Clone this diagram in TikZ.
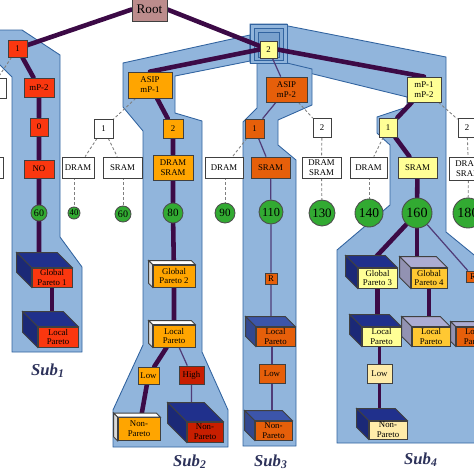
\documentclass[tikz,border=0pt]{standalone}
\usepackage{fontspec}
\setmainfont{Liberation Serif}
\usetikzlibrary{calc}
\definecolor{regblue}{RGB}{145,181,220}
\definecolor{regline}{RGB}{50,100,160}
\definecolor{rootbrown}{RGB}{188,140,140}
\definecolor{subred}{RGB}{250,55,15}
\definecolor{suborange}{RGB}{255,165,0}
\definecolor{subdark}{RGB}{230,95,10}
\definecolor{subyellow}{RGB}{255,255,150}
\definecolor{cream}{RGB}{255,236,170}
\definecolor{gold}{RGB}{255,200,50}
\definecolor{highred}{RGB}{200,30,0}
\definecolor{navyside}{RGB}{32,48,140}
\definecolor{midnavy}{RGB}{60,85,170}
\definecolor{lavside}{RGB}{172,172,210}
\definecolor{cgreen}{RGB}{50,170,50}
\definecolor{pathpurple}{RGB}{60,10,70}
\definecolor{altpurple}{RGB}{80,60,120}
\definecolor{subtext}{RGB}{45,50,90}
\pgfdeclarelayer{regions}
\pgfdeclarelayer{paths}
\pgfsetlayers{regions,paths,main}
\tikzset{
  box/.style={draw=black!75,line width=.45pt,inner sep=0pt,align=center,font=\fontsize{5}{5.6}\selectfont},
  sz/.style 2 args={minimum width=#1*0.02cm,minimum height=#2*0.02cm},
  blank/.style={box,fill=white},
  val/.style 2 args={circle,draw=black!70,fill=cgreen,inner sep=0pt,line width=.5pt,minimum size=#1*0.02cm,font=\fontsize{#2}{#2}\selectfont},
  best/.style={draw=pathpurple,line width=2.6pt,line cap=round},
  alt/.style={draw=altpurple,line width=.7pt},
  midline/.style={draw=pathpurple,line width=1.3pt},
  skip/.style={draw=gray,line width=.5pt,dash pattern=on 1.6pt off 1.2pt},
  region/.style={fill=regblue,draw=regline,line width=.5pt},
  sublabel/.style={font=\fontsize{9.5}{11}\selectfont\bfseries\itshape,text=subtext},
}
\newcommand\pbox[8]{%
  \node[box,sz={#3}{#4},fill=#5] (#1) at (#2) {#8};
  \filldraw[fill=#6,draw=black!75,line width=.45pt] (#1.north west) -- ++(-#7,-#7) -- ($(#1.north east)+(-#7,-#7)$) -- (#1.north east) -- cycle;
  \filldraw[fill=#6!85!black,draw=black!75,line width=.45pt] (#1.north west) -- ++(-#7,-#7) -- ($(#1.south west)+(-#7,-#7)$) -- (#1.south west) -- cycle;
  \coordinate (#1t) at ($(#1.north)+(-#7/2,-#7/2)$);
}

\begin{document}
\begin{tikzpicture}[x=0.02cm,y=-0.02cm]
\useasboundingbox (0,0) rectangle (474,474);

\node[box,sz={35}{23},fill=rootbrown,font=\fontsize{7.5}{8}\selectfont] (root) at (149.5,9.5) {Root};
\node[box,sz={17}{17},fill=subyellow] (n2) at (268.5,49.5) {2};

% Sub 1
\node[box,sz={19}{17},fill=subred] (a1) at (17.5,48.5) {1};
\node[box,sz={30}{19},fill=subred] (a2) at (39,87.5) {mP-2};
\node[box,sz={18}{18},fill=subred] (a3) at (39,127) {0};
\node[box,sz={30}{18},fill=subred] (a4) at (39,169) {NO};
\node[val={16}{5.7}] (a5) at (39,213) {60};
\pbox{a6}{52,277.5}{40}{19}{subred}{navyside}{15}{Global\\Pareto 1}
\pbox{a7}{58,337}{40}{20}{subred}{navyside}{15}{Local\\Pareto}
\node[blank,sz={30}{20}] (a8) at (-9,88) {};
\node[blank,sz={36}{21}] (a9) at (-15,168) {};
\node[sublabel] (s1) at (48,371) {Sub\textsubscript{1}};

% Sub 2
\node[box,sz={44}{26},fill=suborange] (b1) at (150,85) {ASIP\\mP-1};
\node[box,sz={20}{19},fill=suborange] (b2) at (173,128.5) {2};
\node[box,sz={40}{25},fill=suborange] (b3) at (173,167.5) {DRAM\\SRAM};
\node[val={20}{6.3}] (b4) at (173,213) {80};
\pbox{b5}{174,276}{42}{22}{suborange}{white}{4}{Global\\Pareto 2}
\pbox{b6}{174,336}{42}{22}{suborange}{white}{4}{Local\\Pareto}
\node[box,sz={21}{17},fill=suborange] (b7) at (148.5,375.5) {Low};
\node[box,sz={25}{18},fill=highred] (b8) at (191.5,375) {High};
\pbox{b9}{139,429}{42}{23}{suborange}{white}{4}{Non-\\Pareto}
\pbox{b10}{205,432}{36}{20}{highred}{navyside}{19}{Non-\\Pareto}
\node[blank,sz={19}{19}] (b11) at (103.5,128.5) {1};
\node[blank,sz={32}{21}] (b12) at (78,167.5) {DRAM};
\node[blank,sz={39}{21}] (b13) at (122.5,167.5) {SRAM};
\node[val={12}{5}] (b14) at (74,213) {40};
\node[val={16}{5.7}] (b15) at (123,214) {60};
\node[sublabel] (s2) at (190,462) {Sub\textsubscript{2}};

% Sub 3
\node[box,sz={41}{25},fill=subdark] (c1) at (286.5,89.5) {ASIP\\mP-2};
\node[box,sz={19}{19},fill=subdark] (c2) at (254.5,128.5) {1};
\node[box,sz={39}{21},fill=subdark] (c3) at (270.5,167.5) {SRAM};
\node[val={24}{7}] (c4) at (271,212) {110};
\node[box,sz={12}{11},fill=subdark] (c5) at (271,278.5) {R};
\pbox{c6}{275.5,336.5}{39}{19}{subdark}{midnavy}{10}{Local\\Pareto}
\node[box,sz={26}{19},fill=subdark] (c7) at (272,373.5) {Low};
\pbox{c8}{273.5,430.5}{37}{19}{subdark}{midnavy}{10}{Non-\\Pareto}
\node[blank,sz={38}{21}] (c9) at (224,167.5) {DRAM};
\node[val={20}{6.3}] (c10) at (225,213) {90};
\node[blank,sz={18}{19}] (c11) at (322,128) {2};
\node[blank,sz={39}{21}] (c12) at (321.5,167.5) {DRAM\\SRAM};
\node[val={26}{7.3}] (c13) at (322,213) {130};
\node[sublabel] (s3) at (271,462) {Sub\textsubscript{3}};

% Sub 4
\node[box,sz={34}{25},fill=subyellow] (d1) at (424,89.5) {mP-1\\mP-2};
\node[box,sz={18}{19},fill=subyellow] (d2) at (388,127.5) {1};
\node[box,sz={39}{21},fill=subyellow] (d3) at (417.5,167.5) {SRAM};
\node[val={30}{8}] (d4) at (417,213) {160};
\pbox{d5}{377.5,278}{39}{20}{subyellow}{navyside}{12}{Global\\Pareto 3}
\pbox{d6}{429,278}{36}{20}{gold}{lavside}{11}{Global\\Pareto 4}
\node[box,sz={14}{11},fill=subdark] (d7) at (473,276.5) {R};
\pbox{d8}{381.5,336.5}{39}{19}{subyellow}{navyside}{12}{Local\\Pareto}
\pbox{d9}{431,336.5}{38}{19}{gold}{lavside}{10}{Local\\Pareto}
\pbox{d10}{475,336.5}{38}{19}{subdark}{lavside}{5}{Local\\Pareto}
\node[box,sz={25}{19},fill=cream] (d11) at (379.5,373.5) {Low};
\pbox{d12}{388,430}{38}{18}{cream}{navyside}{12}{Non-\\Pareto}
\node[blank,sz={37}{21}] (d13) at (368.5,167.5) {DRAM};
\node[val={28}{7.7}] (d14) at (369,213) {140};
\node[blank,sz={18}{19}] (d15) at (467,127.5) {2};
\node[blank,sz={39}{23}] (d16) at (468.5,168.5) {DRAM\\SRAM};
\node[val={30}{8}] (d17) at (468,213) {180};
\node[sublabel] (s4) at (421,460) {Sub\textsubscript{4}};

\begin{pgfonlayer}{regions}
\path[region] (-10,30) -- (22,30) -- (60,55) -- (60,237) -- (82,267) -- (82,352) -- (12,352) -- (12,77) -- (-10,55) -- cycle;
\path[region] (250,35) -- (250,61) -- (175,76) -- (175,113) -- (202,121) -- (202,352) -- (228,410) -- (228,447) -- (113,447) -- (113,410) -- (143,345) -- (143,131) -- (123,107) -- (123,63) -- cycle;
\path[region] (283,25) -- (446,57) -- (446,232) -- (490,268) -- (490,443) -- (337,443) -- (337,250) -- (390,205) -- (390,145) -- (377,133) -- (377,117) -- (407,107) -- (407,97) -- (305,72) -- (283,63) -- cycle;
\path[region] (250,24) -- (287,24) -- (287,63) -- (312,69) -- (312,105) -- (278,120) -- (278,145) -- (296,160) -- (296,446) -- (243,446) -- (243,122) -- (257,108) -- (257,63) -- (250,63) -- cycle;
\draw[region] (250,24) rectangle (287,63);
\draw[region,fill=regblue!85!regline] (254,28) rectangle (283,60);
\draw[region,fill=regblue!75!regline] (258,32) rectangle (279,57);
\end{pgfonlayer}

\begin{pgfonlayer}{paths}
\draw[best] (root.west) -- (a1);
\draw[best] (root.east) -- (n2);
\draw[best] (n2.west) -- (b1.north);
\draw[best] (n2.east) -- (d1.north);
\draw[best] (a1) -- (a2) -- (a3) -- (a4) -- (a5) -- (a5 |- a6);
\draw[best] (a6) -- (a6 |- a7);
\draw[best] (b1) -- (b2) -- (b3) -- (b4) -- (b5) -- (b6) -- (b7) -- (b9);
\draw[alt] (b6) -- (b8) -- (b8 |- b10);
\draw[alt] (n2) -- (c1) -- (c2) -- (c3) -- (c4) -- (c5) -- (c5 |- c6);
\draw[alt] (c7 |- c6) -- (c7) -- (c7 |- c8);
\draw[best] (d1) -- (d2) -- (d3) -- (d4) -- (d5t);
\draw[best] (d4) -- (d4 |- d6);
\draw[best] (d5) -- (d5 |- d8);
\draw[best] (d6) -- (d6 |- d9);
\draw[alt] (d4) -- (d7);
\draw[midline] (d11 |- d8) -- (d11) -- (d11 |- d12);
\draw[skip] (a1) -- (a8);
\draw[skip] (b1) -- (b11) -- (b12);
\draw[skip] (b11) -- (b13);
\draw[skip] (b14 |- b12) -- (b14);
\draw[skip] (b15 |- b13) -- (b15);
\draw[skip] (c2) -- (c9);
\draw[skip] (c10 |- c9) -- (c10);
\draw[skip] (c1) -- (c11) -- (c12) -- (c13);
\draw[skip] (d2) -- (d13);
\draw[skip] (d14 |- d13) -- (d14);
\draw[skip] (d1) -- (d15) -- (d16) -- (d17);
\end{pgfonlayer}
\end{tikzpicture}
\end{document}
